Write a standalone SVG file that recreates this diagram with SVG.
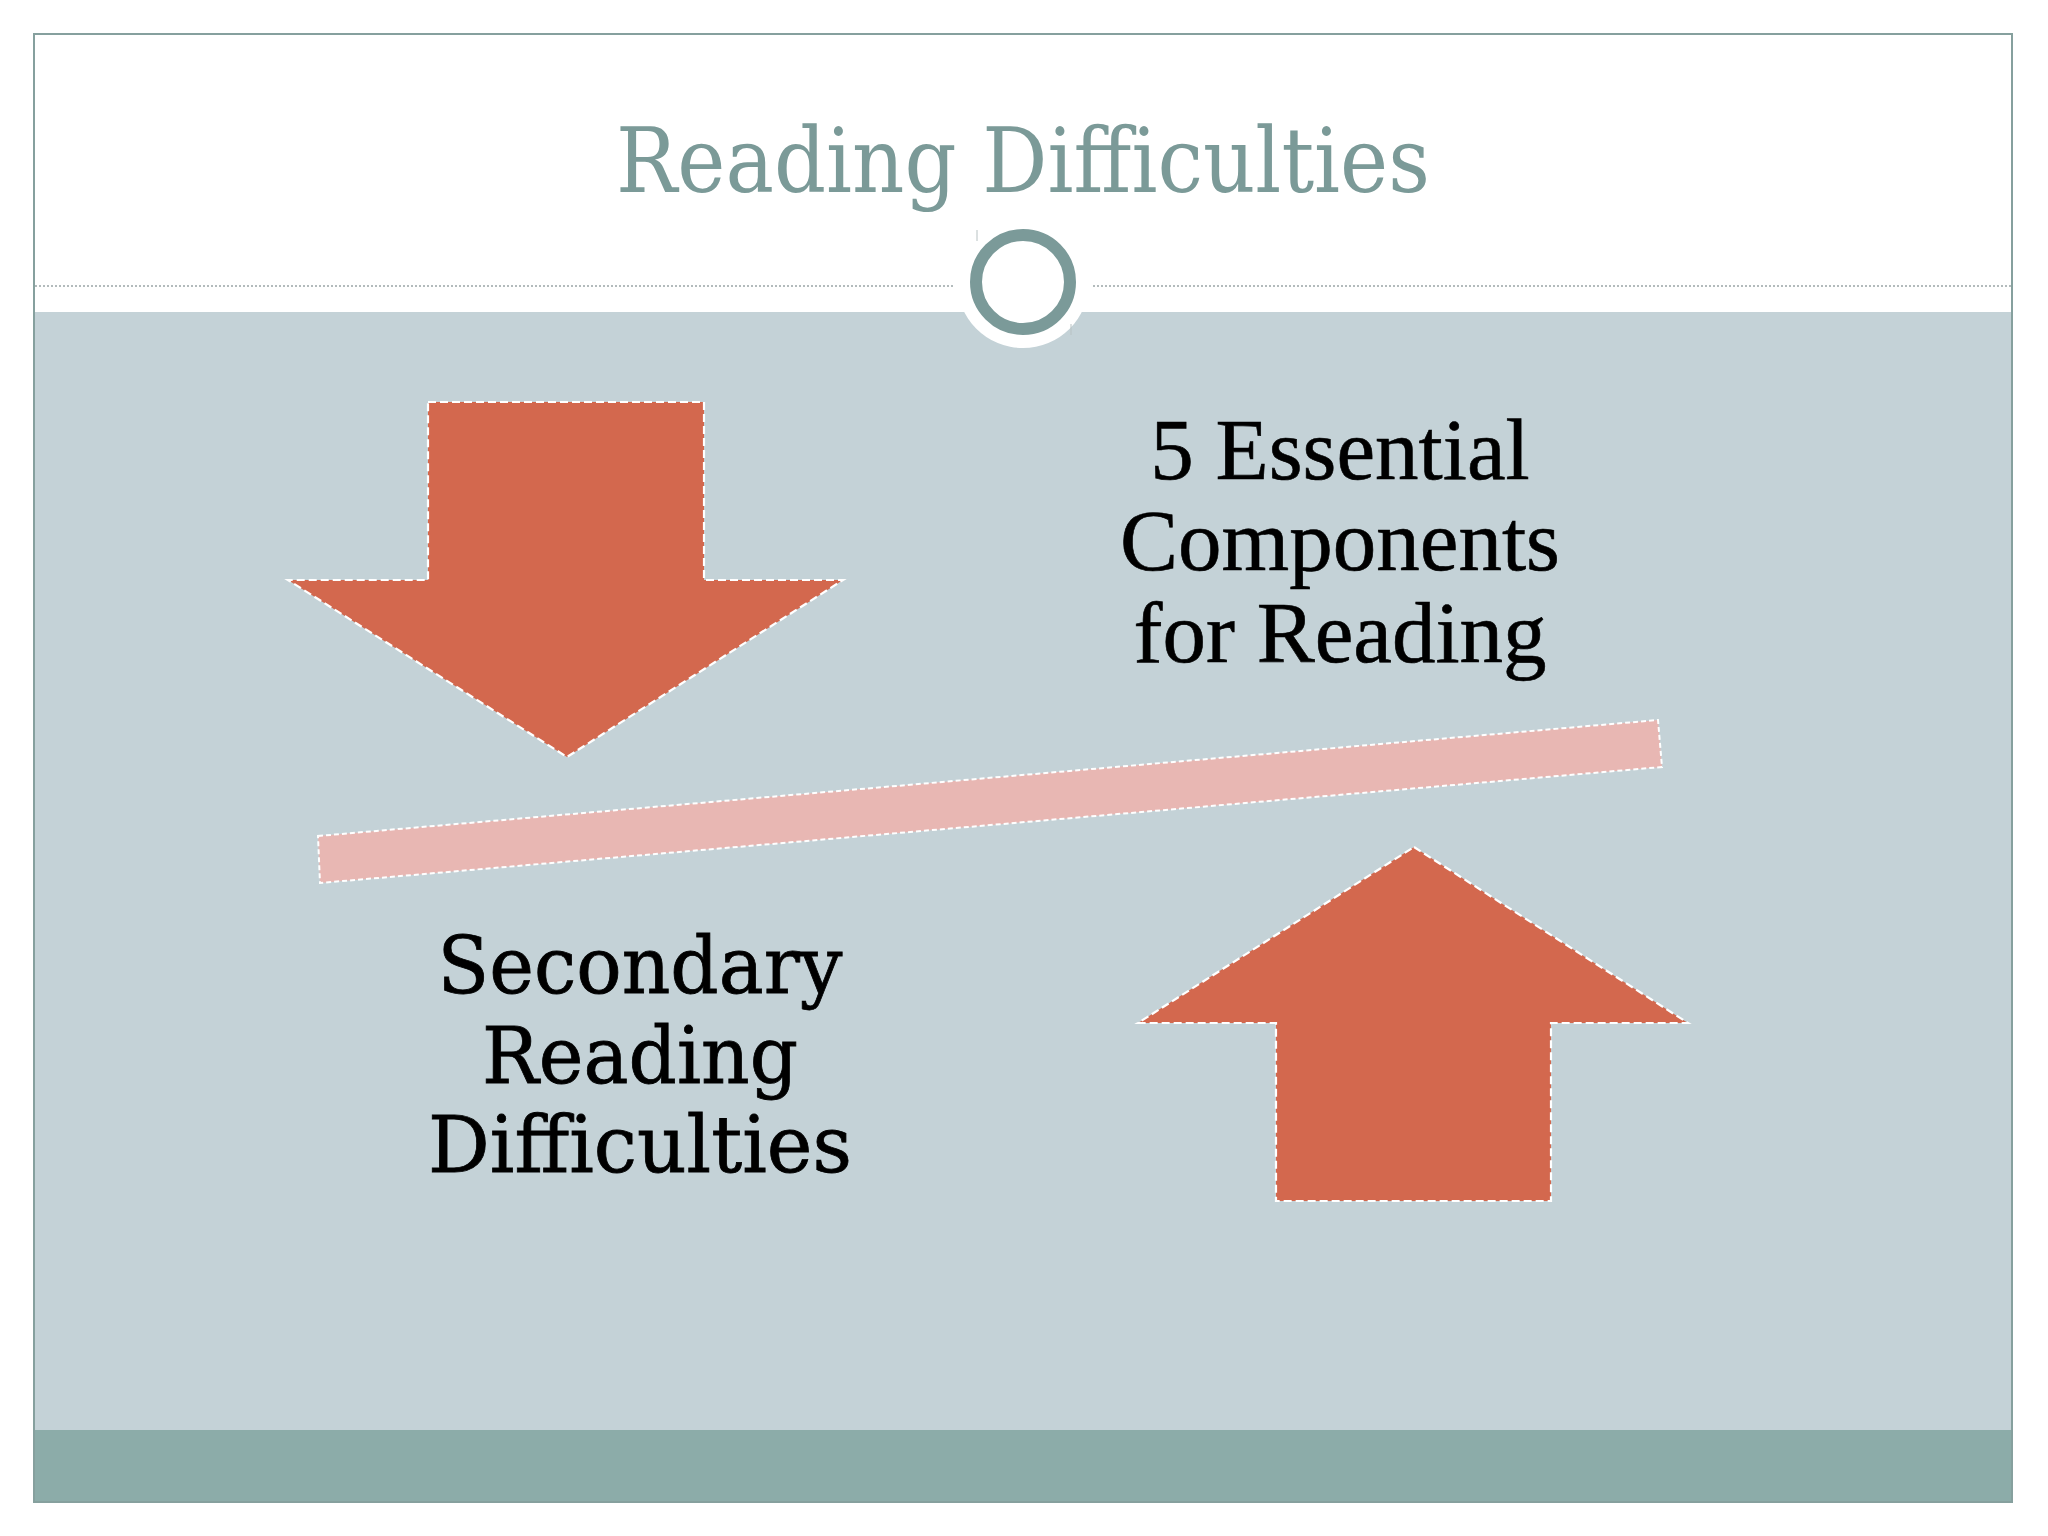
<svg xmlns="http://www.w3.org/2000/svg" width="2048" height="1536" viewBox="0 0 2048 1536">
  <style>
    .arrow { fill: #D3684E; stroke: #FFFFFF; stroke-width: 2.2; stroke-dasharray: 8 4; }
    .bar { fill: #E8B7B3; stroke: #FFFFFF; stroke-width: 2; stroke-dasharray: 5 3; }
    .geo { font-family: "DejaVu Serif", "Liberation Serif", serif; }
    .times { font-family: "Liberation Serif", "Times New Roman", serif; font-size: 87px; fill: #000000; stroke: #000000; stroke-width: 0.6; text-anchor: middle; }
    .sec { fill: #000000; stroke: #000000; stroke-width: 0.8; }
    .dots { stroke: #9AA5A6; stroke-width: 1.5; stroke-dasharray: 2 2; }
  </style>
  <rect width="2048" height="1536" fill="#FFFFFF"/>
  <g id="background">
    <rect x="34" y="34" width="1978" height="278" fill="#FFFFFF"/>
    <rect x="34" y="312" width="1978" height="1118" fill="#C4D2D7"/>
    <rect x="34" y="1430" width="1978" height="72" fill="#8CACA9"/>
    <rect x="34" y="34" width="1978" height="1468" fill="none" stroke="#86A09E" stroke-width="2"/>
    <line class="dots" x1="35" y1="286" x2="955" y2="286"/>
    <line class="dots" x1="1093" y1="286" x2="2011" y2="286"/>
  </g>
  <g id="title">
    <text class="geo" x="1023" y="192" font-size="89" fill="#7B9A98" text-anchor="middle" textLength="814" lengthAdjust="spacingAndGlyphs">Reading Difficulties</text>
  </g>
  <g id="ring">
    <circle cx="1023" cy="282" r="66" fill="#FFFFFF"/>
    <circle cx="1023" cy="282" r="47" fill="#FFFFFF" stroke="#7B9A99" stroke-width="12"/>
    <line x1="977" y1="230" x2="977" y2="241" stroke="#B8C2C3" stroke-width="1"/>
    <line x1="1071" y1="324" x2="1071" y2="335" stroke="#B8C2C3" stroke-width="1"/>
  </g>
  <g id="down-arrow">
    <polygon class="arrow" points="428,402 704,402 704,580 843,580 567,757 288,580 428,580"/>
  </g>
  <g id="up-arrow">
    <polygon class="arrow" points="1414,847 1688,1023 1551,1023 1551,1201 1276,1201 1276,1023 1138,1023"/>
  </g>
  <g id="balance-bar">
    <polygon class="bar" points="318,836 1658,720 1662,767 320,883"/>
  </g>
  <g id="essential-components">
    <text class="times" x="1340" y="479">5 Essential</text>
    <text class="times" x="1340" y="570">Components</text>
    <text class="times" x="1340" y="662">for Reading</text>
  </g>
  <g id="secondary-difficulties">
    <text class="geo sec" x="640" y="993" font-size="79" text-anchor="middle" textLength="405" lengthAdjust="spacingAndGlyphs">Secondary</text>
    <text class="geo sec" x="640" y="1083" font-size="79" text-anchor="middle" textLength="316" lengthAdjust="spacingAndGlyphs">Reading</text>
    <text class="geo sec" x="640" y="1172" font-size="79" text-anchor="middle" textLength="424" lengthAdjust="spacingAndGlyphs">Difficulties</text>
  </g>
</svg>
